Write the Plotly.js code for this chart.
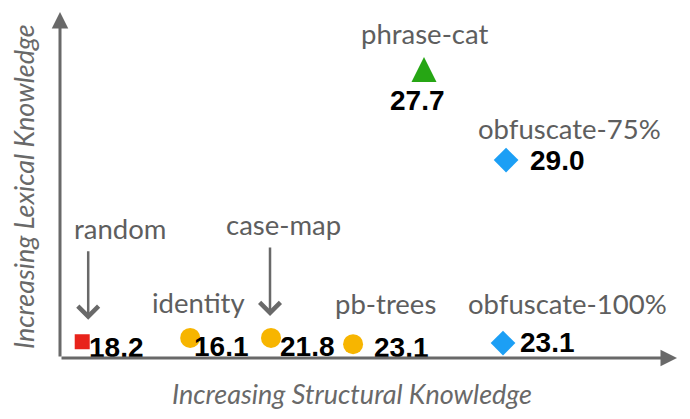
<!DOCTYPE html>
<html>
<head>
<meta charset="utf-8">
<script src="https://cdn.plot.ly/plotly-3.0.1.min.js"></script>
<style>
  html, body { margin: 0; padding: 0; background: #fff; }
  #chart { width: 690px; height: 419px; }
</style>
</head>
<body>
<div id="chart"></div>
<script>
// methods and their scores
const methods = ['random', 'identity', 'case-map', 'pb-trees', 'obfuscate-100%', 'obfuscate-75%', 'phrase-cat'];
const scores = [18.2, 16.1, 21.8, 23.1, 23.1, 29.0, 27.7];
// placement on the two knowledge axes (0 - 10 scale)
const structural = [0.36, 2.11, 3.42, 4.75, 7.18, 7.23, 5.9];
const lexical = [0.47, 0.58, 0.58, 0.40, 0.43, 5.72, 8.7];
const groups = ['random', 'lexical', 'lexical', 'lexical', 'obfuscate', 'obfuscate', 'phrase'];

const grey = '#696969';
const groupStyle = {
  random:    {color: '#e8231b', symbol: 'square',  size: 15},
  lexical:   {color: '#f7b500', symbol: 'circle',  size: 20},
  obfuscate: {color: '#1c9ff5', symbol: 'diamond', size: 19},
  phrase:    {color: '#26a614', symbol: 'arrow-up', size: 25}
};

// label offsets in screen px (dy positive = down)
const nameOffset = [[38, -113], [8, -35], [12, -113], [32, -41], [64, -40], [63, -32], [0, -23]];
const scoreOffset = [[5, 6, 'left'], [2, 9, 'left'], [7, 9, 'left'], [19, 3, 'left'], [15, -1, 'left'], [22, 0, 'left'], [-7, 44, 'center']];
const arrowed = {0: 6, 2: -1}; // methods pointed at with an arrow, x shift

const traces = [];
['random', 'lexical', 'obfuscate', 'phrase'].forEach(g => {
  const idx = methods.map((m, i) => i).filter(i => groups[i] === g);
  const st = groupStyle[g];
  traces.push({
    type: 'scatter', mode: 'markers',
    x: idx.map(i => structural[i]), y: idx.map(i => lexical[i]),
    text: idx.map(i => methods[i]),
    marker: {color: st.color, symbol: st.symbol, size: st.size, line: {width: 0}},
    hoverinfo: 'text', showlegend: false, cliponaxis: false
  });
});

const annotations = [];
const nameFont = {family: 'Lato, "Open Sans", sans-serif', size: 27.5, color: '#5e5e5e'};
const scoreFont = {family: '"Liberation Sans", Arial, sans-serif', size: 28, color: '#000'};

methods.forEach((m, i) => {
  if (i in arrowed) {
    // vertical arrow from the label down to the mark
    annotations.push({
      x: structural[i], y: lexical[i], xref: 'x', yref: 'y',
      text: '', showarrow: true, ax: 0, ay: -70,
      xshift: arrowed[i], yshift: 22,
      arrowhead: 4, arrowsize: 1.6, arrowwidth: 2.5, arrowcolor: grey
    });
  }
  annotations.push({
    x: structural[i], y: lexical[i], xref: 'x', yref: 'y',
    text: m, showarrow: false, font: nameFont,
    xanchor: 'center', yanchor: 'middle',
    xshift: nameOffset[i][0], yshift: -nameOffset[i][1]
  });
  annotations.push({
    x: structural[i], y: lexical[i], xref: 'x', yref: 'y',
    text: '<b>' + scores[i].toFixed(1) + '</b>', showarrow: false, font: scoreFont,
    xanchor: scoreOffset[i][2], yanchor: 'middle',
    xshift: scoreOffset[i][0], yshift: -scoreOffset[i][1]
  });
});

// the two axis arrows
annotations.push({x: 10, y: 0, ax: 0, ay: 0, xref: 'x', yref: 'y', axref: 'x', ayref: 'y',
  text: '', showarrow: true, arrowhead: 2, arrowsize: 1.1, arrowwidth: 3, arrowcolor: grey});
annotations.push({x: 0, y: 10, ax: 0, ay: 0, xref: 'x', yref: 'y', axref: 'x', ayref: 'y',
  text: '', showarrow: true, arrowhead: 2, arrowsize: 1.1, arrowwidth: 3, arrowcolor: grey});

// axis titles
const titleFont = {family: 'Lato, "Open Sans", sans-serif', size: 27, color: grey};
annotations.push({x: 0.474, y: 0, xref: 'paper', yref: 'paper', yshift: -35,
  xanchor: 'center', yanchor: 'middle',
  text: '<i>Increasing Structural Knowledge</i>', showarrow: false, font: titleFont});
annotations.push({x: 0, y: 0.494, xref: 'paper', yref: 'paper', xshift: -37, textangle: -90,
  xanchor: 'center', yanchor: 'middle',
  text: '<i>Increasing Lexical Knowledge</i>', showarrow: false, font: titleFont});

const layout = {
  width: 690, height: 419,
  margin: {l: 60, r: 13, t: 12, b: 61},
  paper_bgcolor: '#fff', plot_bgcolor: '#fff',
  xaxis: {range: [0, 10], visible: false, fixedrange: true},
  yaxis: {range: [0, 10], visible: false, fixedrange: true},
  annotations: annotations,
  showlegend: false
};

Plotly.newPlot('chart', traces, layout, {displayModeBar: false, staticPlot: true});
</script>
</body>
</html>
